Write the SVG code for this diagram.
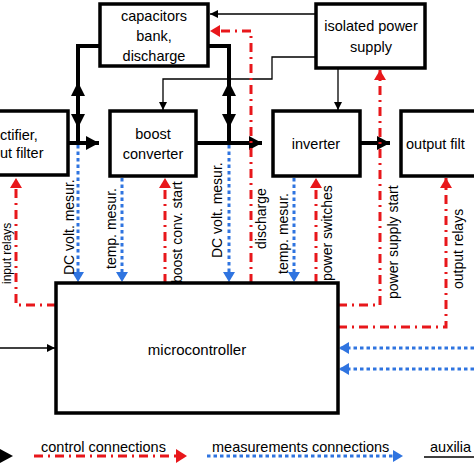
<svg xmlns="http://www.w3.org/2000/svg" width="474" height="474" viewBox="0 0 474 474">
<defs>
<style>
.box{fill:#fff;stroke:#000;stroke-width:3.5}
.t{font-family:"Liberation Sans",Arial,sans-serif;font-size:14.5px;fill:#000}
.c{text-anchor:middle}
.r{font-family:"Liberation Sans",Arial,sans-serif;font-size:14px;fill:#000}
.pw{fill:none;stroke:#000;stroke-width:4}
.th{fill:none;stroke:#000;stroke-width:1.3}
.ctl{fill:none;stroke:#e8171b;stroke-width:3;stroke-dasharray:9 5 2 5}
.ms{fill:none;stroke:#2f74e0;stroke-width:3;stroke-dasharray:3.5 3}
.rh{fill:#e8171b}
.bh{fill:#2f74e0}
.kh{fill:#000}
</style>
<marker id="ak" markerUnits="userSpaceOnUse" markerWidth="10" markerHeight="8" refX="8" refY="4" orient="auto"><path d="M0,0 L8,4 L0,8 z" class="kh"/></marker>
<marker id="ar" markerUnits="userSpaceOnUse" markerWidth="12" markerHeight="12" refX="10" refY="6" orient="auto"><path d="M0,0 L10,6 L0,12 z" class="rh"/></marker>
<marker id="ab" markerUnits="userSpaceOnUse" markerWidth="12" markerHeight="12" refX="10" refY="6" orient="auto"><path d="M0,0 L10,6 L0,12 z" class="bh"/></marker>
<marker id="ap" markerUnits="userSpaceOnUse" markerWidth="14" markerHeight="14" refX="13" refY="7" orient="auto"><path d="M0,0 L13,7 L0,14 z" class="kh"/></marker>
</defs>

<g id="connectors">
<path class="pw" d="M68,143 H99" marker-end="url(#ap)"/>
<path class="pw" d="M196,143 H262" marker-end="url(#ap)"/>
<path class="pw" d="M360,143 H390" marker-end="url(#ap)"/>
<path class="pw" d="M78,143 V46 H100"/>
<path class="pw" d="M208,46 H229 V143"/>
<path class="kh" d="M78,82 L71,96 L85,96 z"/>
<path class="kh" d="M78,128 L71,114 L85,114 z"/>
<path class="kh" d="M229,82 L222,96 L236,96 z"/>
<path class="kh" d="M229,128 L222,114 L236,114 z"/>
<path class="th" d="M316,14 H210" marker-end="url(#ak)"/>
<path class="th" d="M316,57 H272 V79 H163 V110" marker-end="url(#ak)"/>
<path class="th" d="M338,68 V110" marker-end="url(#ak)"/>
<path class="th" d="M0,348 H55" marker-end="url(#ak)"/>
<path class="ctl" d="M56,305 H16 V178" marker-end="url(#ar)"/>
<path class="ctl" d="M165,283 V178" marker-end="url(#ar)"/>
<path class="ctl" d="M251,283 V31 H210" marker-end="url(#ar)"/>
<path class="ctl" d="M316,283 V178" marker-end="url(#ar)"/>
<path class="ctl" d="M338,305 H380 V70" marker-end="url(#ar)"/>
<path class="ctl" d="M338,327 H446 V178" marker-end="url(#ar)"/>
<path class="ms" d="M78,145 V282" marker-end="url(#ab)"/>
<path class="ms" d="M122,178 V282" marker-end="url(#ab)"/>
<path class="ms" d="M229,145 V282" marker-end="url(#ab)"/>
<path class="ms" d="M294,178 V282" marker-end="url(#ab)"/>
<path class="ms" d="M474,348 H339" marker-end="url(#ab)"/>
<path class="ms" d="M474,369 H339" marker-end="url(#ab)"/>
</g>

<g id="rectifier">
<rect class="box" x="-10" y="111" width="78" height="64"/>
<text class="t" x="0" y="140">ctifier,</text>
<text class="t" x="0" y="158">ut filter</text>
</g>
<g id="capacitors">
<rect class="box" x="100" y="4" width="108" height="62"/>
<text class="t c" x="154" y="21">capacitors</text>
<text class="t c" x="154" y="41">bank,</text>
<text class="t c" x="154" y="61">discharge</text>
</g>
<g id="isolated">
<rect class="box" x="316" y="4" width="109" height="64"/>
<text class="t c" x="371" y="31">isolated power</text>
<text class="t c" x="371" y="52">supply</text>
</g>
<g id="boost">
<rect class="box" x="110" y="111" width="86" height="65"/>
<text class="t c" x="153" y="139">boost</text>
<text class="t c" x="153" y="159">converter</text>
</g>
<g id="inverter">
<rect class="box" x="273" y="111" width="87" height="65"/>
<text class="t c" x="316" y="149">inverter</text>
</g>
<g id="outputfilter">
<rect class="box" x="401" y="111" width="90" height="65"/>
<text class="t" x="406" y="149">output filt</text>
</g>
<g id="microcontroller">
<rect class="box" x="56" y="283" width="282" height="130"/>
<text class="t c" x="197" y="355" style="font-size:15px">microcontroller</text>
</g>

<g id="labels">
<text class="r" transform="translate(11,284) rotate(-90)" style="font-size:12px">input relays</text>
<text class="r" transform="translate(74,275) rotate(-90)">DC volt. mesur.</text>
<text class="r" transform="translate(116,269) rotate(-90)">temp. mesur.</text>
<text class="r" transform="translate(182,283) rotate(-90)">boost conv. start</text>
<text class="r" transform="translate(222,258) rotate(-90)">DC volt. mesur.</text>
<text class="r" transform="translate(266,249) rotate(-90)">discharge</text>
<text class="r" transform="translate(288,274) rotate(-90)">temp. mesur.</text>
<text class="r" transform="translate(332,281) rotate(-90)">power switches</text>
<text class="r" transform="translate(398,299) rotate(-90)">power supply start</text>
<text class="r" transform="translate(463,289) rotate(-90)">output relays</text>
</g>

<g id="legend">
<path class="pw" d="M-5,456 H3"/>
<path class="kh" d="M0,449 L13,456 L0,463 z"/>
<path class="ctl" d="M34,456 H178"/>
<path class="rh" d="M176,449 L187,456 L176,463 z"/>
<text class="t" x="41" y="452">control connections</text>
<path class="ms" d="M207,456 H394"/>
<path class="bh" d="M393,450 L403,456 L393,462 z"/>
<text class="t" x="212" y="452">measurements connections</text>
<path class="th" d="M424,457 H474"/>
<text class="t" x="430" y="452">auxilia</text>
</g>
</svg>
